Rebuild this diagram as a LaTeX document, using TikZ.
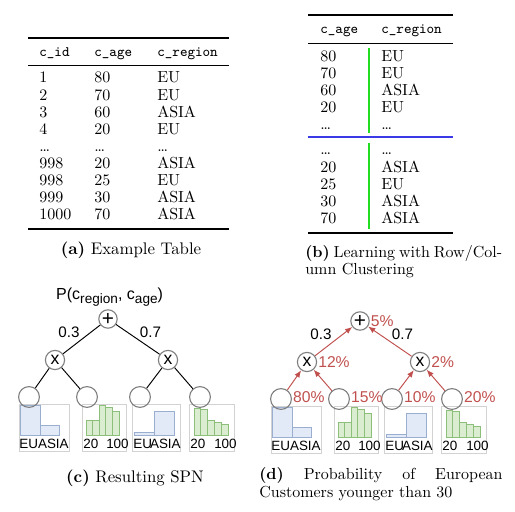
\documentclass[tikz,border=0pt]{standalone}
\usepackage{fontspec}
\newfontfamily\spnfont{Liberation Sans}
\usetikzlibrary{arrows.meta,positioning}

\definecolor{boxgrey}{HTML}{D2D2D2}
\definecolor{circgrey}{HTML}{808080}
\definecolor{bluefill}{HTML}{E2EAF8}
\definecolor{blueline}{HTML}{9AAED0}
\definecolor{greenfill}{HTML}{DAEDD0}
\definecolor{greenline}{HTML}{8CC07A}
\definecolor{spnred}{HTML}{C0504D}
\definecolor{splitgreen}{HTML}{22DD22}
\definecolor{splitblue}{HTML}{3A3AE6}

\tikzset{
  cell/.style={anchor=base west,inner sep=0pt,font=\fontsize{10}{12}\selectfont},
  headcell/.style={cell,font=\fontsize{9}{11}\selectfont\ttfamily},
  heavyrule/.style={line width=0.9pt},
  lightrule/.style={line width=0.5pt},
  captext/.style={inner sep=0pt,font=\fontsize{10.5}{12}\selectfont},
  capnarrow/.style={inner sep=0pt,font=\fontsize{10}{12}\selectfont},
  spnnode/.style={circle,draw=circgrey,line width=0.7pt,inner sep=0pt},
  sumnode/.style={spnnode,minimum size=11.5pt,font=\spnfont\fontsize{13}{13}\selectfont},
  prodnode/.style={spnnode,minimum size=12pt,font=\spnfont\fontsize{11}{11}\selectfont},
  leafnode/.style={spnnode,minimum size=13pt},
  leafbox/.style={draw=boxgrey,line width=0.6pt},
  bluebar/.style={draw=blueline,fill=bluefill,line width=0.5pt},
  greenbar/.style={draw=greenline,fill=greenfill,line width=0.5pt},
  ticklabel/.style={inner sep=0pt,font=\spnfont\fontsize{8.4}{9}\selectfont},
  weight/.style={inner sep=1pt,font=\spnfont\fontsize{9.5}{10}\selectfont},
  pct/.style={inner sep=0.5pt,text=spnred,font=\spnfont\fontsize{9.8}{10}\selectfont},
  spnedge/.style={line width=0.6pt},
  spnarrow/.style={spnred,line width=0.6pt,-{Latex[length=4.5pt,width=3.6pt]}},
}

% one SPN with its leaf histograms, node names start with #1
\newcommand{\spnpanel}[1]{%
  \foreach \l/\r in {19/69,82/126,132/180,189/234}
    \draw[leafbox] (\l,404) rectangle (\r,451);
  % region histograms
  \draw[bluebar] (20,435) rectangle (40,405);
  \draw[bluebar] (40,435) rectangle (59,425);
  \draw[bluebar] (134,435) rectangle (154,432);
  \draw[bluebar] (154,435) rectangle (174,411);
  % age histograms
  \foreach \t [count=\i from 0] in {420,420,405,407,411}
    \draw[greenbar] ({86+6.6*\i},435) rectangle ({92.6+6.6*\i},\t);
  \foreach \t [count=\i from 0] in {408,409,420,422,424}
    \draw[greenbar] ({194+6.8*\i},435) rectangle ({200.8+6.8*\i},\t);
  \node[ticklabel,anchor=base west] (#1eu1) at (19,448) {EU};
  \node[ticklabel,anchor=base east] (#1asia1) at (69,448) {ASIA};
  \node[ticklabel,anchor=base west] (#1low1) at (83,448) {20};
  \node[ticklabel,anchor=base east] (#1high1) at (129,448) {100};
  \node[ticklabel,anchor=base west] (#1eu2) at (133,448) {EU};
  \node[ticklabel,anchor=base east] (#1asia2) at (181,448) {ASIA};
  \node[ticklabel,anchor=base west] (#1low2) at (190,448) {20};
  \node[ticklabel,anchor=base east] (#1high2) at (237,448) {100};
  % sum, products, leaves
  \node[sumnode] (#1sum) at (108,319) {+};
  \node[prodnode] (#1prodl) at (55,360) {x};
  \node[prodnode] (#1prodr) at (168,360) {x};
  \foreach \n/\x in {1/29,2/87,3/140,4/200}
    \node[leafnode] (#1leaf\n) at (\x,397) {};
}

\begin{document}
\begin{tikzpicture}[x=0.625pt,y=-0.625pt]
  \useasboundingbox (0,0) rectangle (515,512);

  %%%% (a) Example Table %%%%%%%%%%%%%%%%%%%%%%%%%%%%%%%%%%%%%%%%%%%%%%%%%
  \draw[heavyrule] (28,38) -- (229,38);
  \node[headcell] (hid) at (39,57) {c\_id};
  \node[headcell] (hage) at (94,57) {c\_age};
  \node[headcell] (hregion) at (157,57) {c\_region};
  \draw[lightrule] (28,65) -- (229,65);
  \foreach \id/\age/\reg [count=\i from 0] in
      {1/80/EU,2/70/EU,3/60/ASIA,4/20/EU,\dots/\dots/\dots,
       998/20/ASIA,998/25/EU,999/30/ASIA,1000/70/ASIA} {
    \node[cell] (id\i) at (39,{83+17.125*\i}) {\id};
    \node[cell] (age\i) at (94,{83+17.125*\i}) {\age};
    \node[cell] (reg\i) at (157,{83+17.125*\i}) {\reg};
  }
  \draw[heavyrule] (28,229) -- (229,229);
  \node[captext,anchor=base] (capa) at (131,255) {\textbf{(a)} Example Table};

  %%%% (b) Row/Column Clustering %%%%%%%%%%%%%%%%%%%%%%%%%%%%%%%%%%%%%%%%%
  \draw[heavyrule] (308,15) -- (453,15);
  \node[headcell] (bhage) at (320,34) {c\_age};
  \node[headcell] (bhregion) at (381,34) {c\_region};
  \draw[lightrule] (308,43) -- (453,43);
  \foreach \age/\reg [count=\i from 0] in {80/EU,70/EU,60/ASIA,20/EU,\dots/\dots} {
    \node[cell] (bage\i) at (320,{62+17*\i}) {\age};
    \node[cell] (breg\i) at (381,{62+17*\i}) {\reg};
  }
  \draw[splitblue,line width=0.7pt] (308,137) -- (453,137);
  \foreach \age/\reg [count=\i from 0] in {\dots/\dots,20/ASIA,25/EU,30/ASIA,70/ASIA} {
    \node[cell] (cage\i) at (320,{155+17.25*\i}) {\age};
    \node[cell] (creg\i) at (381,{155+17.25*\i}) {\reg};
  }
  \draw[splitgreen,line width=0.8pt] (369,48) -- (369,133);
  \draw[splitgreen,line width=0.8pt] (369,143) -- (369,229);
  \draw[heavyrule] (308,233) -- (453,233);
  \node[capnarrow,anchor=base west] (capb1) at (305,258)
    {\makebox[123pt][s]{\textbf{(b)} Learning with Row/Col-}};
  \node[capnarrow,anchor=base west] (capb2) at (305,275) {umn Clustering};

  %%%% (c) Resulting SPN %%%%%%%%%%%%%%%%%%%%%%%%%%%%%%%%%%%%%%%%%%%%%%%%%%
  \spnpanel{c}
  \node[inner sep=0pt,font=\spnfont\fontsize{10}{10}\selectfont,above=1.5pt of csum,xshift=1pt] (cquery)
    {P(c\raisebox{-0.45ex}{\fontsize{8.5}{8.5}\selectfont region}, c\raisebox{-0.45ex}{\fontsize{8.5}{8.5}\selectfont age})};
  \draw[spnedge] (csum) -- node[weight,above left] {0.3} (cprodl);
  \draw[spnedge] (csum) -- node[weight,above right] {0.7} (cprodr);
  \draw[spnedge] (cprodl) -- (cleaf1);
  \draw[spnedge] (cprodl) -- (cleaf2);
  \draw[spnedge] (cprodr) -- (cleaf3);
  \draw[spnedge] (cprodr) -- (cleaf4);
  \node[captext,anchor=base] (capc) at (135,482) {\textbf{(c)} Resulting SPN};

  %%%% (d) Probability of European Customers %%%%%%%%%%%%%%%%%%%%%%%%%%%%%
  \begin{scope}[shift={(252,2)}]
    \spnpanel{d}
  \end{scope}
  \draw[spnarrow] (dprodl) -- node[weight,text=black,above left] {0.3} (dsum);
  \draw[spnarrow] (dprodr) -- node[weight,text=black,above right] {0.7} (dsum);
  \draw[spnarrow] (dleaf1) -- (dprodl);
  \draw[spnarrow] (dleaf2) -- (dprodl);
  \draw[spnarrow] (dleaf3) -- (dprodr);
  \draw[spnarrow] (dleaf4) -- (dprodr);
  \node[pct,right=0pt of dsum] (psum) {5\%};
  \node[pct,right=0pt of dprodl] (pprodl) {12\%};
  \node[pct,right=0pt of dprodr] (pprodr) {2\%};
  \foreach \n/\p in {1/80,2/15,3/10,4/20}
    \node[pct,anchor=west] (pleaf\n) at ([yshift=1pt]dleaf\n.east) {\p\%};
  \node[capnarrow,anchor=base west] (capd1) at (259,479)
    {\makebox[152pt][s]{\textbf{(d)} Probability of European}};
  \node[capnarrow,anchor=base west] (capd2) at (259,497) {Customers younger than 30};
\end{tikzpicture}
\end{document}
